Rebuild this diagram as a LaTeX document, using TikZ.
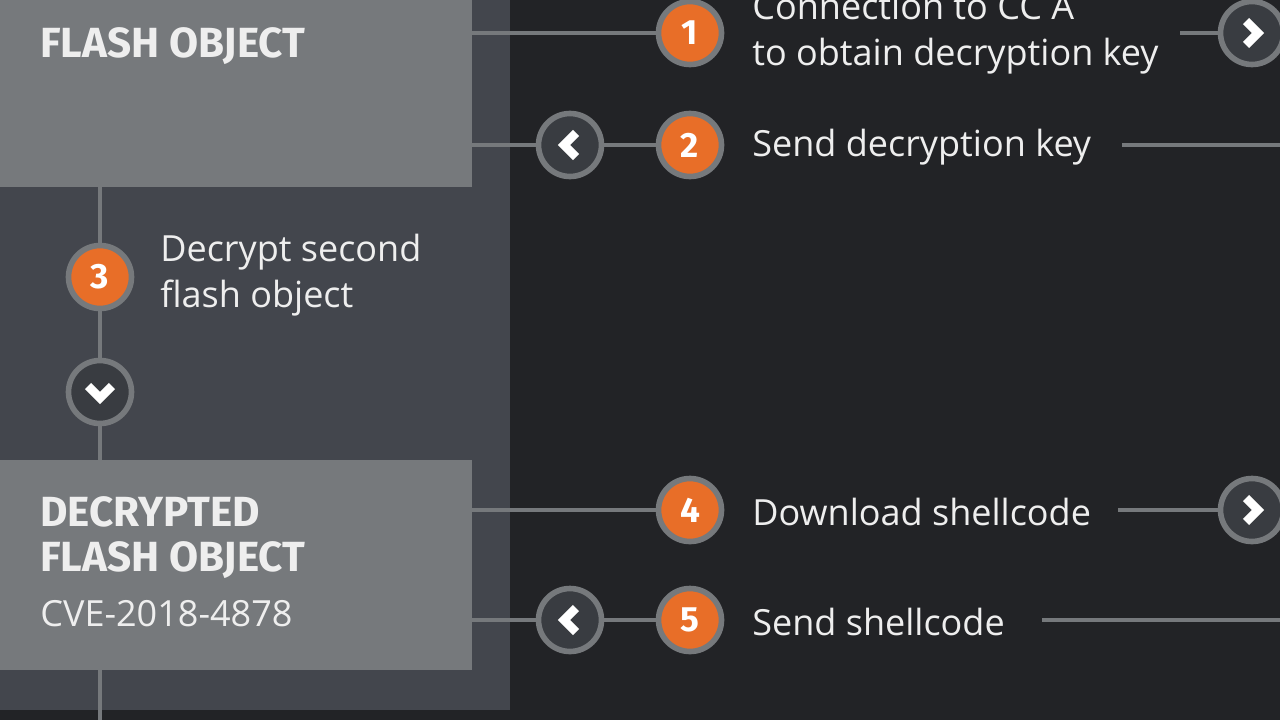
\documentclass[tikz,border=0pt]{standalone}
\usepackage{fontspec}
\setmainfont{Open Sans}
\newfontfamily\headfont{Fira Sans}
\definecolor{bg}{RGB}{34,35,38}
\definecolor{panel}{RGB}{67,70,77}
\definecolor{boxc}{RGB}{118,121,124}
\definecolor{linec}{RGB}{118,121,124}
\definecolor{org}{RGB}{232,110,40}
\definecolor{txt}{RGB}{238,238,238}
\tikzset{
  px/.style={x=0.02cm,y=-0.02cm},
  conn/.style={draw=linec,line width=2.2pt},
  numc/.style={circle,fill=org,draw=linec,line width=3.2pt,minimum size=1.26cm,inner sep=0pt,text=white,font=\headfont\bfseries\fontsize{20}{20}\selectfont},
  arrc/.style={circle,fill=panel!85!black,draw=linec,line width=3.2pt,minimum size=1.26cm,inner sep=0pt},
  chev/.style={draw=white,line width=5pt,line cap=butt,line join=miter},
  lbl/.style={anchor=west,text=txt,font=\fontsize{20.5}{26}\selectfont,align=left,inner sep=0pt},
  head/.style={anchor=west,text=txt,font=\headfont\bfseries\fontsize{24}{26}\selectfont,align=left,inner sep=0pt}
}
\begin{document}
\begin{tikzpicture}[px]
\fill[bg] (0,0) rectangle (1280,720);
\useasboundingbox (0,0) rectangle (1280,720);
\fill[panel] (0,0) rectangle (510,710);
\fill[boxc] (0,0) rectangle (472,187);
\fill[boxc] (0,460) rectangle (472,670);
\coordinate (b1a) at (472,33);
\coordinate (b1b) at (472,145);
\coordinate (b2a) at (472,510);
\coordinate (b2b) at (472,620);
\coordinate (v0) at (100,187);
\coordinate (v1) at (100,720);
\draw[conn] (v0) -- (v1);
\node[head] (h1) at (40,46) {FLASH OBJECT};
\node[head,anchor=north west] (h2) at (40,496) {DECRYPTED\\FLASH OBJECT};
\node[lbl,anchor=west,font=\fontsize{20.5}{22}\selectfont] (cve) at (40,614) {CVE-2018-4878};
% circles
\node[numc] (n1) at (690,33) {1};
\node[numc] (n2) at (690,145) {2};
\node[numc] (n3) at (100,277) {3};
\node[numc] (n4) at (690,510) {4};
\node[numc] (n5) at (690,620) {5};
\node[arrc] (l2) at (570,145) {};
\node[arrc] (l5) at (570,620) {};
\node[arrc] (d3) at (100,392) {};
\node[arrc] (r1) at (1252,33) {};
\node[arrc] (r4) at (1252,510) {};
% labels
\node[lbl,anchor=north west] (t1) at (752,-7) {Connection to CC A\\to obtain decryption key};
\node[lbl] (t2) at (752,147) {Send decryption key};
\node[lbl,anchor=north west] (t3) at (160,234) {Decrypt second\\flash object};
\node[lbl] (t4) at (752,512) {Download shellcode};
\node[lbl] (t5) at (752,622) {Send shellcode};
\coordinate (e1) at (1180,33);
\coordinate (e2) at (1122,145);
\coordinate (e2r) at (1280,145);
\coordinate (e4) at (1118,510);
\coordinate (e5) at (1042,620);
\coordinate (e5r) at (1280,620);
% connectors
\draw[conn] (b1a) -- (n1);
\draw[conn] (e1) -- (r1);
\draw[conn] (b1b) -- (l2) (l2) -- (n2);
\draw[conn] (e2) -- (e2r);
\draw[conn] (b2a) -- (n4);
\draw[conn] (e4) -- (r4);
\draw[conn] (b2b) -- (l5) (l5) -- (n5);
\draw[conn] (e5) -- (e5r);
% chevrons
\draw[chev] ([shift={(6,-12)}]l2.center) -- ++(-12,12) -- ++(12,12);
\draw[chev] ([shift={(6,-12)}]l5.center) -- ++(-12,12) -- ++(12,12);
\draw[chev] ([shift={(-6,-12)}]r1.center) -- ++(12,12) -- ++(-12,12);
\draw[chev] ([shift={(-6,-12)}]r4.center) -- ++(12,12) -- ++(-12,12);
\draw[chev] ([shift={(-12,-6)}]d3.center) -- ++(12,12) -- ++(12,-12);
\end{tikzpicture}
\end{document}
